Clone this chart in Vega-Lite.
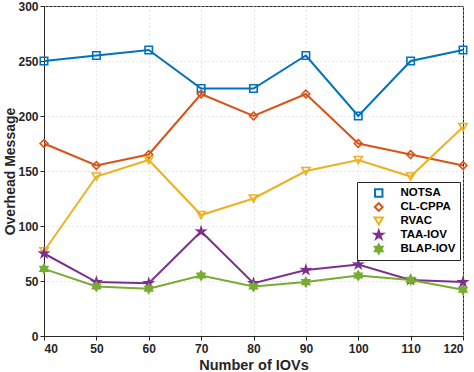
{
  "$schema": "https://vega.github.io/schema/vega-lite/v6.json",
  "width": 419,
  "height": 330,
  "autosize": {"type": "none"},
  "padding": {"left": 44, "top": 6, "right": 11, "bottom": 36},
  "background": "white",
  "config": {
    "font": "Liberation Sans",
    "view": {"stroke": "#262626", "strokeWidth": 1},
    "axis": {
      "labelFont": "Liberation Sans", "labelFontWeight": "bold", "labelFontSize": 12, "labelColor": "#262626",
      "titleFont": "Liberation Sans", "titleFontWeight": "bold", "titleFontSize": 14.5, "titleColor": "#262626",
      "domainColor": "#262626", "tickColor": "#262626", "tickSize": 4,
      "gridColor": "#d0d0d0", "gridDash": [1, 3], "gridWidth": 1
    },
    "legend": {
      "labelFont": "Liberation Sans", "labelFontWeight": "bold", "labelFontSize": 11.5, "labelColor": "#000"
    }
  },
  "data": {
    "values": [
      {"n": 40, "series": "NOTSA", "v": 250}, {"n": 50, "series": "NOTSA", "v": 255}, {"n": 60, "series": "NOTSA", "v": 260},
      {"n": 70, "series": "NOTSA", "v": 225}, {"n": 80, "series": "NOTSA", "v": 225}, {"n": 90, "series": "NOTSA", "v": 255},
      {"n": 100, "series": "NOTSA", "v": 200}, {"n": 110, "series": "NOTSA", "v": 250}, {"n": 120, "series": "NOTSA", "v": 260},
      {"n": 40, "series": "CL-CPPA", "v": 175}, {"n": 50, "series": "CL-CPPA", "v": 155}, {"n": 60, "series": "CL-CPPA", "v": 165},
      {"n": 70, "series": "CL-CPPA", "v": 220}, {"n": 80, "series": "CL-CPPA", "v": 200}, {"n": 90, "series": "CL-CPPA", "v": 220},
      {"n": 100, "series": "CL-CPPA", "v": 175}, {"n": 110, "series": "CL-CPPA", "v": 165}, {"n": 120, "series": "CL-CPPA", "v": 155},
      {"n": 40, "series": "RVAC", "v": 77}, {"n": 50, "series": "RVAC", "v": 145}, {"n": 60, "series": "RVAC", "v": 160},
      {"n": 70, "series": "RVAC", "v": 110}, {"n": 80, "series": "RVAC", "v": 125}, {"n": 90, "series": "RVAC", "v": 150},
      {"n": 100, "series": "RVAC", "v": 160}, {"n": 110, "series": "RVAC", "v": 145}, {"n": 120, "series": "RVAC", "v": 190},
      {"n": 40, "series": "TAA-IOV", "v": 75}, {"n": 50, "series": "TAA-IOV", "v": 49}, {"n": 60, "series": "TAA-IOV", "v": 48},
      {"n": 70, "series": "TAA-IOV", "v": 95}, {"n": 80, "series": "TAA-IOV", "v": 48}, {"n": 90, "series": "TAA-IOV", "v": 60},
      {"n": 100, "series": "TAA-IOV", "v": 65}, {"n": 110, "series": "TAA-IOV", "v": 51}, {"n": 120, "series": "TAA-IOV", "v": 49},
      {"n": 40, "series": "BLAP-IOV", "v": 61}, {"n": 50, "series": "BLAP-IOV", "v": 45}, {"n": 60, "series": "BLAP-IOV", "v": 43},
      {"n": 70, "series": "BLAP-IOV", "v": 55}, {"n": 80, "series": "BLAP-IOV", "v": 45}, {"n": 90, "series": "BLAP-IOV", "v": 49},
      {"n": 100, "series": "BLAP-IOV", "v": 55}, {"n": 110, "series": "BLAP-IOV", "v": 51}, {"n": 120, "series": "BLAP-IOV", "v": 42}
    ]
  },
  "encoding": {
    "x": {
      "field": "n", "type": "quantitative", "title": "Number of IOVs",
      "scale": {"domain": [40, 120], "nice": false, "zero": false},
      "axis": {"values": [40, 50, 60, 70, 80, 90, 100, 110, 120], "titlePadding": 4, "labelPadding": 3}
    },
    "y": {
      "field": "v", "type": "quantitative", "title": "Overhead Message",
      "scale": {"domain": [0, 300], "nice": false},
      "axis": {"values": [0, 50, 100, 150, 200, 250, 300], "titlePadding": 0, "labelPadding": 2, "titleFontSize": 14}
    },
    "color": {
      "field": "series", "type": "nominal", "title": null,
      "scale": {
        "domain": ["NOTSA", "CL-CPPA", "RVAC", "TAA-IOV", "BLAP-IOV"],
        "range": ["#0072BD", "#D95319", "#EDB120", "#7E2F8E", "#77AC30"]
      },
      "legend": {
        "orient": "none", "legendX": 313, "legendY": 176,
        "strokeColor": "#262626", "fillColor": "white", "padding": 4,
        "symbolStrokeWidth": 2, "symbolSize": 60, "rowPadding": 0, "clipHeight": 14,
        "labelOffset": 16, "symbolOffset": 12
      }
    }
  },
  "layer": [
    {
      "mark": {"type": "line", "strokeWidth": 2}
    },
    {
      "mark": {"type": "point", "filled": false, "strokeWidth": 1.6, "size": 60, "opacity": 1},
      "encoding": {
        "shape": {
          "field": "series", "type": "nominal", "title": null,
          "scale": {
            "domain": ["NOTSA", "CL-CPPA", "RVAC", "TAA-IOV", "BLAP-IOV"],
            "range": ["square", "diamond", "triangle-down",
              "M0,-1L0.223,-0.307L0.951,-0.309L0.361,0.117L0.588,0.809L0,0.38L-0.588,0.809L-0.361,0.117L-0.951,-0.309L-0.223,-0.307Z",
              "M0,-1L0.289,-0.5L0.866,-0.5L0.577,0L0.866,0.5L0.289,0.5L0,1L-0.289,0.5L-0.866,0.5L-0.577,0L-0.866,-0.5L-0.289,-0.5Z"]
          }
        },
        "fill": {
          "field": "series", "type": "nominal", "legend": null,
          "scale": {
            "domain": ["NOTSA", "CL-CPPA", "RVAC", "TAA-IOV", "BLAP-IOV"],
            "range": ["transparent", "transparent", "transparent", "#7E2F8E", "#77AC30"]
          }
        },
        "size": {
          "field": "series", "type": "nominal", "legend": null,
          "scale": {
            "domain": ["NOTSA", "CL-CPPA", "RVAC", "TAA-IOV", "BLAP-IOV"],
            "range": [55, 80, 80, 200, 150]
          }
        }
      }
    }
  ]
}
